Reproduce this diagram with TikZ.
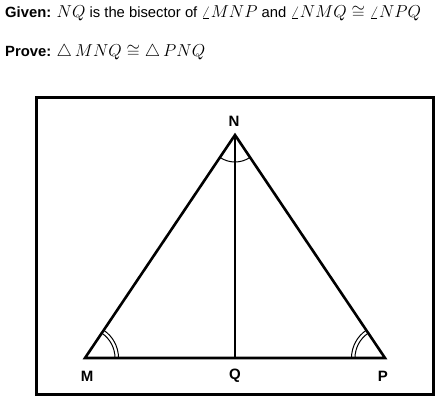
\documentclass[tikz,border=0pt]{standalone}
\usepackage{fontspec}
\setmainfont{Liberation Sans}
\newcommand{\mth}[1]{{\fontsize{16.5}{18}\selectfont$#1$}}
\begin{document}
\begin{tikzpicture}[x=1pt,y=1pt]
  \tikzset{
    vlabel/.style={font=\fontsize{15}{17}\selectfont\bfseries, inner sep=0pt},
    side/.style={line width=2.6pt},
    anglemark/.style={line width=1pt}
  }
  \useasboundingbox (0,0) rectangle (448,403);
  \node[anchor=base west, inner sep=0pt, font=\fontsize{14.8}{17}\selectfont] (given) at (5,385)
    {\textbf{Given:} \mth{NQ} is the bisector of \mth{\angle MNP} and \mth{\angle NMQ \cong \angle NPQ}};
  \node[anchor=base west, inner sep=0pt, font=\fontsize{14.8}{17}\selectfont] (prove) at (5,346)
    {\textbf{Prove:} \mth{\triangle\,MNQ \cong\triangle\,PNQ}};
  \draw[line width=3pt] (36,8) rectangle (433,305);
  \coordinate (M) at (85,45);
  \coordinate (P) at (385,45);
  \coordinate (N) at (235,268);
  \coordinate (Q) at (235,45);
  \node[vlabel] (Mlab) at (87,27) {M};
  \node[vlabel] (Qlab) at (235,27) {Q};
  \node[vlabel] (Plab) at (383,27) {P};
  \node[vlabel] (Nlab) at (234,282) {N};
  \draw[side, line join=miter] (M) -- (N) -- (P) -- cycle;
  \draw[side] (N) -- (Q);
  % angle marks
  \draw[anglemark] (M) ++(0:30pt) arc[start angle=0, end angle=56.1, radius=30pt];
  \draw[anglemark] (M) ++(0:33.5pt) arc[start angle=0, end angle=56.1, radius=33.5pt];
  \draw[anglemark] (P) ++(180:30pt) arc[start angle=180, end angle=123.9, radius=30pt];
  \draw[anglemark] (P) ++(180:33.5pt) arc[start angle=180, end angle=123.9, radius=33.5pt];
  \draw[anglemark] (N) ++(236.1:27pt) arc[start angle=236.1, end angle=303.9, radius=27pt];
\end{tikzpicture}
\end{document}
